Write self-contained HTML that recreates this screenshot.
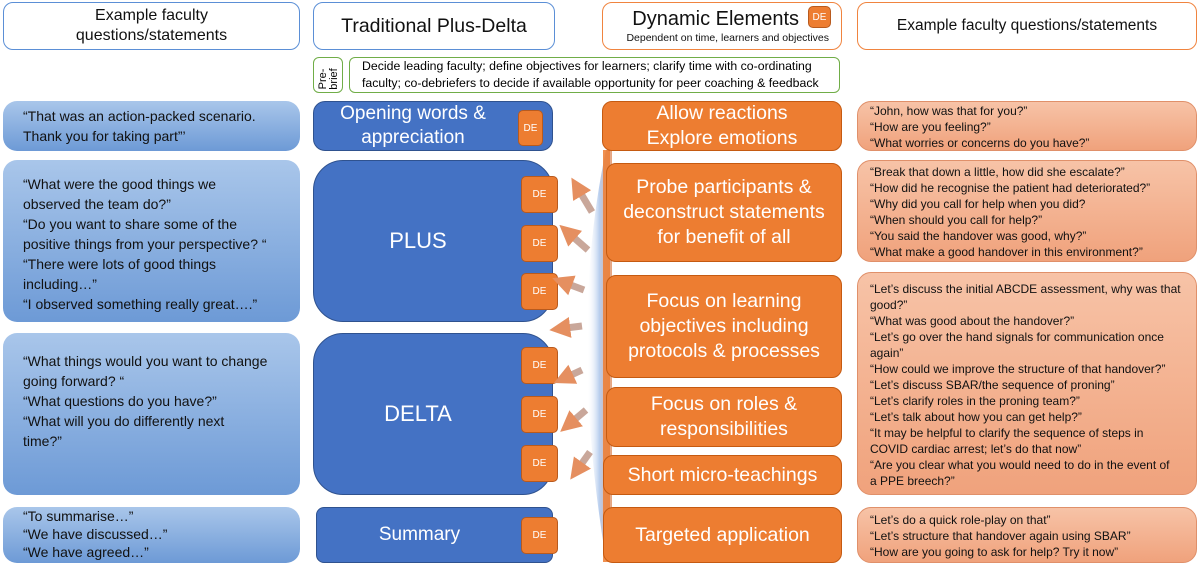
<!DOCTYPE html>
<html><head><meta charset="utf-8"><style>
*{margin:0;padding:0;box-sizing:border-box}
body{width:1200px;height:565px;position:relative;background:#fff;font-family:"Liberation Sans",sans-serif;overflow:hidden}
.a{position:absolute}
.hdr{border-radius:10px;background:#fff;display:flex;flex-direction:column;align-items:center;justify-content:center;text-align:center;color:#111}
.blue{background:#4472c4;border:1.5px solid #2f528f;border-radius:12px;color:#fff;display:flex;align-items:center;justify-content:center;text-align:center}
.or{background:#ed7d31;border:1.5px solid #c55a11;border-radius:10px;color:#fff;display:flex;align-items:center;justify-content:center;text-align:center;font-size:19.5px;line-height:25px}
.lb{background:linear-gradient(#a9c6ea,#6d9ad6);border-radius:14px;color:#111;font-size:14px;line-height:20px;padding:0 0 0 20px;white-space:nowrap}
.rb{background:linear-gradient(#f7c3a7,#f0a27c);border:1px solid #e0906a;border-radius:14px;color:#111;font-size:12px;line-height:16px;padding:0 12px;white-space:nowrap}
.de{position:absolute;background:#ed7d31;border:1.5px solid #b85a1e;border-radius:5px;color:#fff;font-size:10px;display:flex;align-items:center;justify-content:center}
</style></head><body>
<div class="a hdr" style="left:3px;top:2px;width:297px;height:48px;border:1.5px solid #5b8fd6;font-size:16px;line-height:20px">Example faculty<br>questions/statements</div>
<div class="a hdr" style="left:313px;top:2px;width:242px;height:48px;border:1.5px solid #5b8fd6;font-size:19.5px">Traditional Plus-Delta</div>
<div class="a hdr" style="left:602px;top:2px;width:240px;height:48px;border:1.5px solid #f0843f;align-items:flex-end;padding-right:12px">
<div style="font-size:20px;margin-right:30px">Dynamic Elements</div><div style="font-size:10.5px;margin-top:1px">Dependent on time, learners and objectives</div></div>
<div class="de" style="left:808px;top:6px;width:23px;height:22px">DE</div>
<div class="a hdr" style="left:857px;top:2px;width:340px;height:48px;border:1.5px solid #f0843f;font-size:15.5px">Example faculty questions/statements</div>

<div class="a" style="left:313px;top:57px;width:30px;height:36px;border:1.5px solid #70ad47;border-radius:6px"><div style="position:absolute;left:-3px;top:10px;width:36px;transform:rotate(-90deg);font-size:11px;line-height:11px;text-align:center">Pre-<br>brief</div></div>
<div class="a" style="left:349px;top:57px;width:491px;height:36px;border:1.5px solid #70ad47;border-radius:6px;font-size:12.3px;line-height:17px;padding:0 0 0 12px;white-space:nowrap">Decide leading faculty; define objectives for learners; clarify time with co-ordinating<br>faculty; co-debriefers to decide if available opportunity for peer coaching &amp; feedback</div>

<div class="a lb" style="left:3px;top:101px;width:297px;height:50px;padding-top:5px">“That was an action-packed scenario.<br>Thank you for taking part”’</div>
<div class="a lb" style="left:3px;top:160px;width:297px;height:162px;padding-top:14px">“What were the good things we<br>observed the team do?”<br>“Do you want to share some of the<br>positive things from your perspective? “<br>“There were lots of good things<br>including…”<br>“I observed something really great….”</div>
<div class="a lb" style="left:3px;top:333px;width:297px;height:162px;padding-top:18px">“What things would you want to change<br>going forward? “<br>“What questions do you have?”<br>“What will you do differently next<br>time?”</div>
<div class="a lb" style="left:3px;top:507px;width:297px;height:56px;padding-top:0px;line-height:18px">“To summarise…”<br>“We have discussed…”<br>“We have agreed…”</div>

<div class="a blue" style="left:313px;top:101px;width:240px;height:50px;font-size:19px;line-height:24px;padding-right:40px">Opening words &amp;<br>appreciation</div>
<div class="de" style="left:518px;top:110px;width:25px;height:36px">DE</div>
<div class="a blue" style="left:313px;top:160px;width:240px;height:162px;font-size:22px;border-radius:30px;padding-right:30px">PLUS</div>
<div class="a blue" style="left:313px;top:333px;width:240px;height:162px;font-size:22px;border-radius:30px;padding-right:30px">DELTA</div>
<div class="a blue" style="left:316px;top:507px;width:237px;height:56px;font-size:19px;border-radius:8px;padding-right:30px">Summary</div>
<div class="de" style="left:521px;top:176px;width:37px;height:37px">DE</div>
<div class="de" style="left:521px;top:225px;width:37px;height:37px">DE</div>
<div class="de" style="left:521px;top:273px;width:37px;height:37px">DE</div>
<div class="de" style="left:521px;top:347px;width:37px;height:37px">DE</div>
<div class="de" style="left:521px;top:396px;width:37px;height:37px">DE</div>
<div class="de" style="left:521px;top:445px;width:37px;height:37px">DE</div>
<div class="de" style="left:521px;top:517px;width:37px;height:37px">DE</div>

<svg class="a" style="left:540px;top:140px" width="80" height="425" viewBox="540 140 80 425">
<defs><linearGradient id="g" x1="0" x2="1"><stop offset="0" stop-color="#fff" stop-opacity="0"/><stop offset="0.5" stop-color="#b7cdee"/><stop offset="1" stop-color="#e9a57e"/></linearGradient>
<marker id="m" viewBox="0 0 10 10" refX="2" refY="5" markerWidth="3" markerHeight="3.2" orient="auto"><path d="M0 0L10 5L0 10Z" fill="#e58f60"/></marker></defs>
<path d="M606 150 Q568 330 606 560 L612 560 L612 150Z" fill="url(#g)"/>
<rect x="603" y="150" width="7" height="412" fill="#ed7d31" opacity="0.85"/>
<g stroke="#c9a79a" stroke-width="7" fill="none" marker-end="url(#m)">
<line x1="592" y1="212" x2="580" y2="192"/><line x1="588" y1="250" x2="572" y2="236"/><line x1="584" y1="290" x2="568" y2="284"/><line x1="582" y1="326" x2="566" y2="328"/><line x1="582" y1="370" x2="569" y2="376"/><line x1="586" y1="410" x2="573" y2="421"/><line x1="590" y1="452" x2="580" y2="466"/>
</g>
</svg>

<div class="a or" style="left:602px;top:101px;width:240px;height:50px">Allow reactions<br>Explore emotions</div>
<div class="a or" style="left:606px;top:163px;width:236px;height:99px">Probe participants &amp;<br>deconstruct statements<br>for benefit of all</div>
<div class="a or" style="left:606px;top:275px;width:236px;height:103px">Focus on learning<br>objectives including<br>protocols &amp; processes</div>
<div class="a or" style="left:606px;top:387px;width:236px;height:60px">Focus on roles &amp;<br>responsibilities</div>
<div class="a or" style="left:603px;top:455px;width:239px;height:40px">Short micro-teachings</div>
<div class="a or" style="left:603px;top:507px;width:239px;height:56px">Targeted application</div>

<div class="a rb" style="left:857px;top:101px;width:340px;height:50px;padding-top:1px">“John, how was that for you?”<br>“How are you feeling?”<br>“What worries or concerns do you have?”</div>
<div class="a rb" style="left:857px;top:160px;width:340px;height:102px;padding-top:3px">“Break that down a little, how did she escalate?”<br>“How did he recognise the patient had deteriorated?”<br>“Why did you call for help when you did?<br>“When should you call for help?”<br>“You said the handover was good, why?”<br>“What make a good handover in this environment?”</div>
<div class="a rb" style="left:857px;top:272px;width:340px;height:223px;padding-top:8px">“Let’s discuss the initial ABCDE assessment, why was that<br>good?”<br>“What was good about the handover?”<br>“Let’s go over the hand signals for communication once<br>again”<br>“How could we improve the structure of that handover?”<br>“Let’s discuss SBAR/the sequence of proning”<br>“Let’s clarify roles in the proning team?”<br>“Let’s talk about how you can get help?”<br>“It may be helpful to clarify the sequence of steps in<br>COVID cardiac arrest; let’s do that now”<br>“Are you clear what you would need to do in the event of<br>a PPE breech?”</div>
<div class="a rb" style="left:857px;top:507px;width:340px;height:56px;padding-top:4px">“Let’s do a quick role-play on that”<br>“Let’s structure that handover again using SBAR”<br>“How are you going to ask for help? Try it now”</div>
</body></html>
